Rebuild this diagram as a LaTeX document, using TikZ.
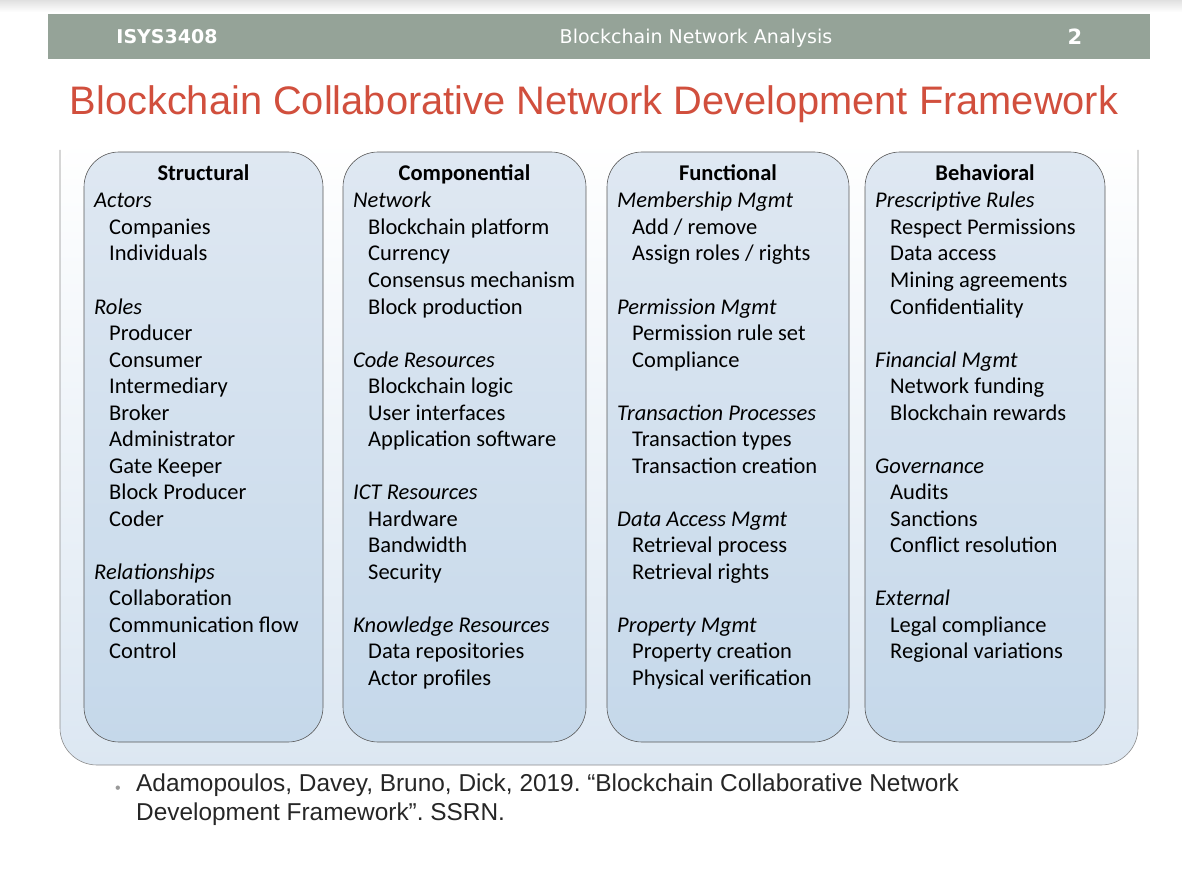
\documentclass[tikz,border=0pt]{standalone}
\usepackage{fontspec}
\setmainfont{Carlito}
\newfontfamily\arialf{Liberation Sans}
\newfontfamily\hdrf{DejaVu Sans}
\begin{document}
\frenchspacing
\begin{tikzpicture}[x=1pt,y=-1pt,
  hdr/.style={font=\hdrf\fontsize{19}{24}\selectfont, text=white, anchor=base},
  colbox/.style={rounded corners=35pt, top color=boxtop, bottom color=boxbot, draw=black!65, line width=0.6pt},
  chead/.style={font=\fontsize{22.5}{24}\selectfont\bfseries, anchor=base, inner sep=0},
  lit/.style={font=\fontsize{22.5}{24}\selectfont\itshape, anchor=base west, inner sep=0},
  itm/.style={font=\fontsize{22.5}{24}\selectfont, anchor=base west, inner sep=0, xshift=15pt},
  gap/.style={inner sep=0}]
\definecolor{barc}{HTML}{95A398}
\definecolor{titc}{HTML}{D14F3D}
\definecolor{boxtop}{HTML}{DFE8F2}
\definecolor{boxbot}{HTML}{C5D8EA}
\definecolor{pantop}{HTML}{FFFFFF}
\definecolor{panbot}{HTML}{DCE7F2}
\useasboundingbox (0,0) rectangle (1182,874);
\fill[white] (0,0) rectangle (1182,874);
\shade[top color=black!12, bottom color=white] (0,0) rectangle (1182,12);
% header
\fill[barc] (48,14) rectangle (1150,59);
\node[hdr, font=\hdrf\fontsize{19}{24}\selectfont\bfseries] (h1) at (167,44) {ISYS3408};
\node[hdr] (h2) at (696,44) {Blockchain Network Analysis};
\node[hdr, font=\hdrf\fontsize{21}{24}\selectfont\bfseries] (h3) at (1075,45) {2};
\node[anchor=base, text=titc, font=\arialf\fontsize{39.8}{44}\selectfont] (title) at (594,115) {Blockchain Collaborative Network Development Framework};
% panel
\shade[top color=pantop, bottom color=panbot, rounded corners=37pt] (60,140) -- (60,765) -- (1138,765) -- (1138,140) -- cycle;
\draw[black!45, line width=0.6pt, rounded corners=37pt] (60,150) -- (60,765) -- (1138,765) -- (1138,150);
% columns
\foreach \c/\xl/\xr/\hd/\items in {
 1/84/323/Structural/{lit/Actors,itm/Companies,itm/Individuals,gap/{},lit/Roles,itm/Producer,itm/Consumer,itm/Intermediary,itm/Broker,itm/Administrator,itm/Gate Keeper,itm/Block Producer,itm/Coder,gap/{},lit/Relationships,itm/Collaboration,itm/Communication flow,itm/Control},
 2/343/586/Componential/{lit/Network,itm/Blockchain platform,itm/Currency,itm/Consensus mechanism,itm/Block production,gap/{},lit/Code Resources,itm/Blockchain logic,itm/User interfaces,itm/Application software,gap/{},lit/ICT Resources,itm/Hardware,itm/Bandwidth,itm/Security,gap/{},lit/Knowledge Resources,itm/Data repositories,itm/Actor profiles},
 3/607/849/Functional/{lit/Membership Mgmt,itm/{Add / remove},itm/{Assign roles / rights},gap/{},lit/Permission Mgmt,itm/Permission rule set,itm/Compliance,gap/{},lit/Transaction Processes,itm/Transaction types,itm/Transaction creation,gap/{},lit/Data Access Mgmt,itm/Retrieval process,itm/Retrieval rights,gap/{},lit/Property Mgmt,itm/Property creation,itm/Physical verification},
 4/865/1105/Behavioral/{lit/Prescriptive Rules,itm/Respect Permissions,itm/Data access,itm/Mining agreements,itm/Confidentiality,gap/{},lit/Financial Mgmt,itm/Network funding,itm/Blockchain rewards,gap/{},lit/Governance,itm/Audits,itm/Sanctions,itm/Conflict resolution,gap/{},lit/External,itm/Legal compliance,itm/Regional variations}} {
  \draw[colbox] (\xl,152) rectangle (\xr,742);
  \node[chead] (hd\c) at ({(\xl+\xr)/2},181) {\hd};
  \foreach \k/\t [count=\i] in \items {
    \node[\k] (c\c-\i) at ({\xl+10},{208+26.5*(\i-1)}) {\t};
  }
}
% citation
\node[anchor=base, text=black!40, font=\arialf\fontsize{16}{20}\selectfont] (bul) at (118,793) {\textbullet};
\node[anchor=north west, align=left, inner sep=0, text=black!85, font=\arialf\fontsize{24.4}{28.5}\selectfont] (cite) at (136,774) {Adamopoulos, Davey, Bruno, Dick, 2019. “Blockchain Collaborative Network\\Development Framework”. SSRN.};
\end{tikzpicture}
\end{document}
